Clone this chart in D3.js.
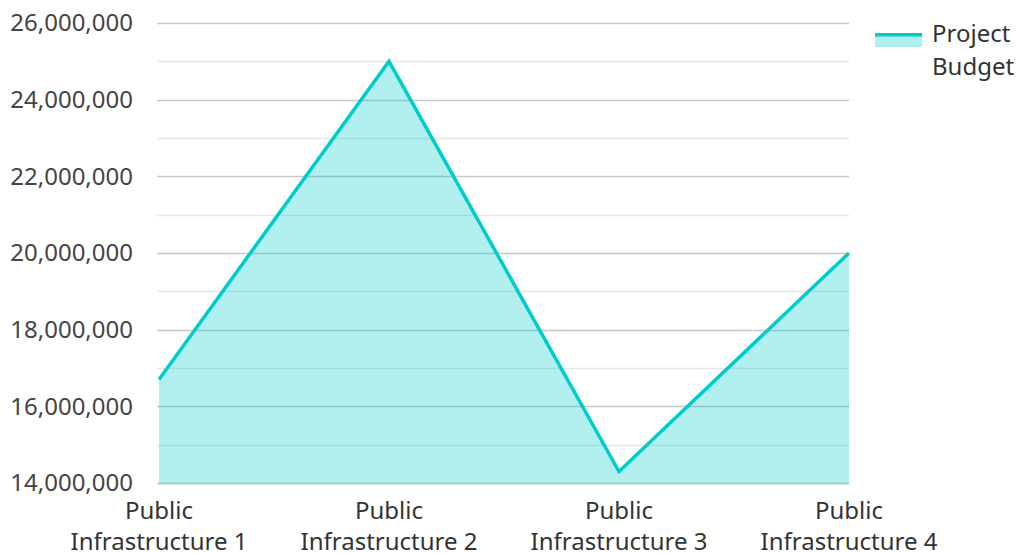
<!DOCTYPE html>
<html>
<head>
<meta charset="utf-8">
<script src="https://cdn.jsdelivr.net/npm/d3@7"></script>
<style>
  body { margin: 0; background: #fff; }
  text { font-family: "Noto Sans", sans-serif; }
</style>
</head>
<body>
<svg id="chart"></svg>
<script>
// Data
var categories = ["Public Infrastructure 1", "Public Infrastructure 2", "Public Infrastructure 3", "Public Infrastructure 4"];
var budget = [16700000, 25000000, 14300000, 20000000];
var seriesName = "Project Budget";

// Size params
var width = 1018, height = 553;
var margin = {top: 23, right: 169, bottom: 70, left: 159};
var w = width - margin.left - margin.right,
    h = height - margin.top - margin.bottom;

var lineColor = "#00cccc";

var svg = d3.select("#chart")
    .attr("width", width)
    .attr("height", height);

var g = svg.append("g")
    .attr("transform", "translate(" + margin.left + "," + margin.top + ")");

// scales
var x = d3.scalePoint().domain(categories).range([0, w]);
var y = d3.scaleLinear().domain([14000000, 26000000]).range([h, 0]);

// grid lines (minor + major)
var ticks = d3.range(14000000, 26000001, 1000000);
g.selectAll(".grid")
    .data(ticks)
  .enter().append("line")
    .attr("x1", -2)
    .attr("x2", w)
    .attr("y1", function(d) { return Math.round(y(d)) + 0.5; })
    .attr("y2", function(d) { return Math.round(y(d)) + 0.5; })
    .style("stroke", function(d) { return d % 2000000 === 0 ? "#c8c8c8" : "#e6e6e6"; })
    .style("stroke-width", 1.5);

// y axis labels
g.selectAll(".ylabel")
    .data(y.ticks(6))
  .enter().append("text")
    .attr("x", -26)
    .attr("y", function(d) { return y(d); })
    .attr("dy", "0.35em")
    .attr("text-anchor", "end")
    .style("font-size", "24px")
    .style("fill", "#444")
    .text(d3.format(","));

// area + line
var area = d3.area()
    .x(function(d, i) { return x(categories[i]); })
    .y0(h)
    .y1(function(d) { return y(d); });

var line = d3.line()
    .x(function(d, i) { return x(categories[i]); })
    .y(function(d) { return y(d); });

g.append("path")
    .datum(budget)
    .attr("d", area)
    .style("fill", lineColor)
    .style("fill-opacity", 0.3);

// baseline
g.append("line")
    .attr("x1", 0).attr("x2", w)
    .attr("y1", h + 0.5).attr("y2", h + 0.5)
    .style("stroke", "#8fcfcf")
    .style("stroke-width", 1.5);

g.append("path")
    .datum(budget)
    .attr("d", line)
    .style("fill", "none")
    .style("stroke", lineColor)
    .style("stroke-width", 3.5);

// x labels (two lines)
var xl = g.selectAll(".xlabel")
    .data(categories)
  .enter().append("text")
    .attr("text-anchor", "middle")
    .attr("transform", function(d) { return "translate(" + x(d) + "," + (h + 36) + ")"; })
    .style("font-size", "24px")
    .style("fill", "#333");

xl.append("tspan")
    .attr("x", 0)
    .text(function(d) { return d.split(" ")[0]; });
xl.append("tspan")
    .attr("x", 0)
    .attr("dy", 31)
    .text(function(d) { return d.split(" ").slice(1).join(" "); });

// legend
var legend = svg.append("g").attr("transform", "translate(875,33)");
legend.append("rect")
    .attr("width", 47).attr("height", 14)
    .style("fill", lineColor)
    .style("fill-opacity", 0.3);
legend.append("rect")
    .attr("width", 47).attr("height", 3.5)
    .style("fill", lineColor);
var lt = legend.append("text")
    .attr("x", 57)
    .attr("y", 9)
    .style("font-size", "24px")
    .style("fill", "#333");
lt.append("tspan").attr("x", 57).text(seriesName.split(" ")[0]);
lt.append("tspan").attr("x", 57).attr("dy", 33).text(seriesName.split(" ")[1]);
</script>
</body>
</html>
